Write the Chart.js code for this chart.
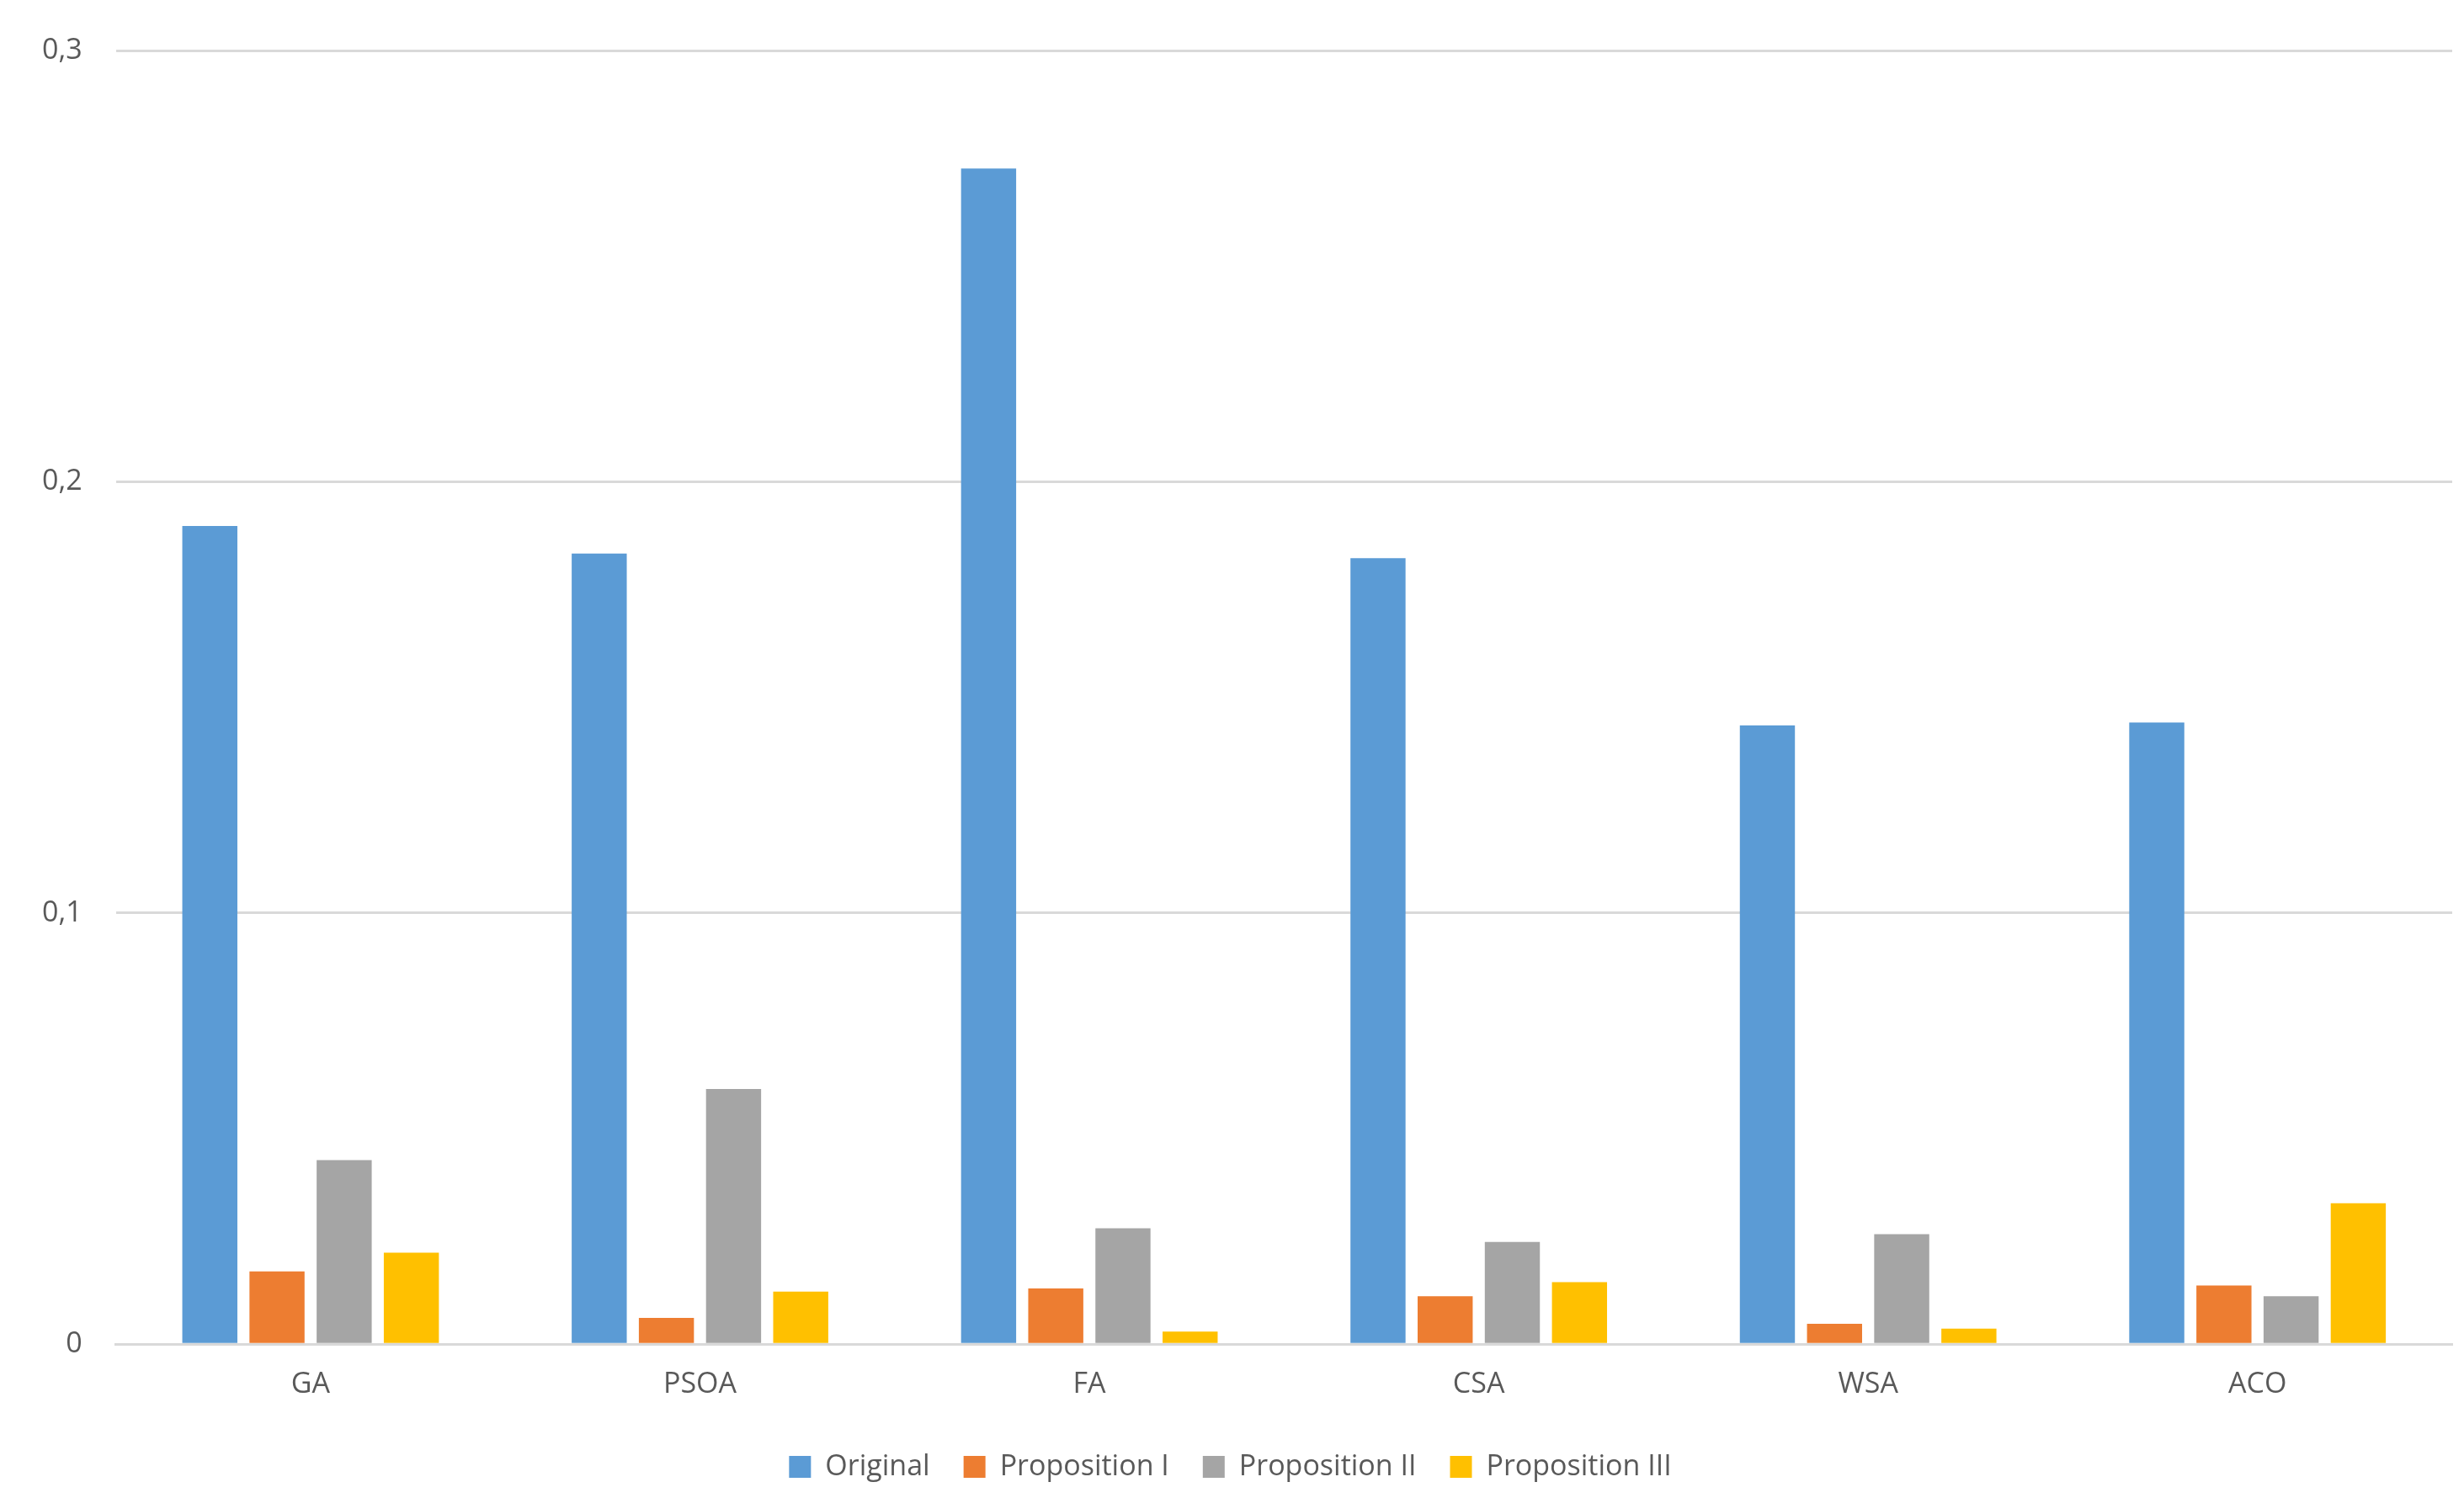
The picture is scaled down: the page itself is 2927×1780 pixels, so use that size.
<!DOCTYPE html>
<html>
<head>
<meta charset="UTF-8">
<title>Chart</title>
<script src="https://cdn.jsdelivr.net/npm/chart.js@4"></script>
<style>
  html, body { margin: 0; padding: 0; background: #fff; }
  #wrap { width: 2927px; height: 1780px; }
</style>
</head>
<body>
<div id="wrap"><canvas id="chart"></canvas></div>
<script>
const categories = ["GA", "PSOA", "FA", "CSA", "WSA", "ACO"];
const original = [0.1898, 0.1834, 0.2727, 0.1823, 0.1435, 0.1442];
const prop1 = [0.0169, 0.0061, 0.0129, 0.0111, 0.0047, 0.0136];
const prop2 = [0.0427, 0.0592, 0.0269, 0.0237, 0.0255, 0.0111];
const prop3 = [0.0212, 0.0122, 0.0029, 0.0144, 0.0036, 0.0327];

Chart.defaults.font.family = "'Open Sans', sans-serif";
Chart.defaults.font.size = 34;
Chart.defaults.color = "#595959";

new Chart("chart", {
  type: "bar",
  data: {
    labels: categories,
    datasets: [
      { label: "Original", data: original, backgroundColor: "#5b9bd5" },
      { label: "Proposition I", data: prop1, backgroundColor: "#ed7d31" },
      { label: "Proposition II", data: prop2, backgroundColor: "#a5a5a5" },
      { label: "Proposition III", data: prop3, backgroundColor: "#ffc000" }
    ]
  },
  options: {
    responsive: true,
    maintainAspectRatio: false,
    animation: false,
    layout: { padding: { top: 30, right: 14, left: 10, bottom: 10 } },
    datasets: { bar: { categoryPercentage: 0.69, barPercentage: 0.82 } },
    plugins: {
      legend: {
        position: "bottom",
        labels: { boxWidth: 26, boxHeight: 26, padding: 40 }
      },
      tooltip: { enabled: false }
    },
    scales: {
      x: {
        grid: { display: false },
        border: { color: "#d9d9d9", width: 3 },
        ticks: { padding: 20 }
      },
      y: {
        min: 0, max: 0.3,
        ticks: {
          stepSize: 0.1,
          padding: 40,
          callback: v => v === 0 ? "0" : v.toFixed(1).replace(".", ",")
        },
        grid: { color: "#d9d9d9", lineWidth: 3, drawTicks: false },
        border: { display: false }
      }
    }
  }
});
</script>
</body>
</html>
